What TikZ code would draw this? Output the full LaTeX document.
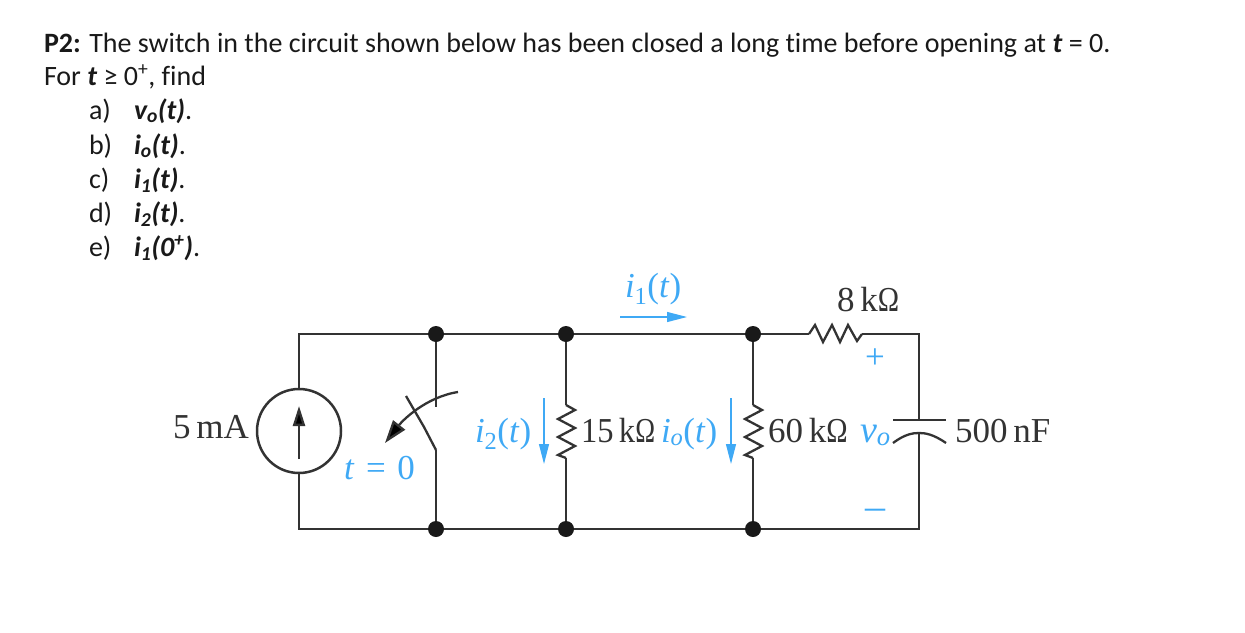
\documentclass[tikz,border=0pt]{standalone}
\usepackage{fontspec}
\usepackage{graphicx}
\setmainfont{Carlito}[Ligatures=NoCommon]
\newfontfamily\ser{Liberation Serif}
\newcommand{\kohm}{k\scalebox{.82}[1]{Ω}}
\usetikzlibrary{arrows.meta}
\definecolor{wire}{HTML}{333333}
\definecolor{blu}{HTML}{3FA9F5}
\tikzset{
  x=1pt,y=-1pt,
  txt/.style={anchor=base west,inner sep=0pt,outer sep=0pt,font=\fontsize{28}{30}\selectfont,text=black!90},
  lab/.style={anchor=base west,inner sep=0pt,outer sep=0pt,font=\ser\fontsize{35}{38}\selectfont,text=wire},
  blab/.style={lab,text=blu},
  wireline/.style={draw=wire,line width=2.3pt},
  dot/.style={circle,fill=black!90,draw=none,minimum size=16pt,inner sep=0pt},
  blarrow/.style={draw=blu,line width=1.2pt,-{Triangle[length=20pt,width=10pt,fill=blu]}},
  swarrow/.style={draw=wire,line width=2.3pt,-{Triangle[length=23pt,width=15pt,fill=black]}},
}
\begin{document}
\begin{tikzpicture}
\useasboundingbox (0,0) rectangle (1245,632);
% problem text
\node[txt] (l1) at (44,52) {\textbf{P2:} The switch in the circuit shown below has been closed a long time before opening at \textbf{\textit{t}} = 0.};
\node[txt] (l2) at (44,85) {For \textbf{\textit{t}} ≥ 0\textsuperscript{+}, find};
\node[txt] (a1) at (89,119) {a)};
\node[txt] (a2) at (134,119) {\textbf{\textit{v\textsubscript{o}(t)}}.};
\node[txt] (b1) at (89,154) {b)};
\node[txt] (b2) at (134,154) {\textbf{\textit{i\textsubscript{o}(t)}}.};
\node[txt] (c1) at (89,188) {c)};
\node[txt] (c2) at (134,188) {\textbf{\textit{i\textsubscript{1}(t)}}.};
\node[txt] (d1) at (89,222) {d)};
\node[txt] (d2) at (134,222) {\textbf{\textit{i\textsubscript{2}(t)}}.};
\node[txt] (e1) at (89,256) {e)};
\node[txt] (e2) at (134,256) {\textbf{\textit{i\textsubscript{1}(0\textsuperscript{+})}}.};
% junctions
\coordinate (cTL) at (299,334);
\coordinate (cBL) at (299,529);
\coordinate (cTR) at (919,334);
\coordinate (cBR) at (919,529);
\node[circle,draw=wire,line width=2.5pt,minimum size=84pt,inner sep=0pt] (src) at (299,431) {};
\coordinate (srcB) at (299,459);
\coordinate (srcT) at (299,406);
\coordinate (swT) at (436,407);
\coordinate (swB) at (436,450);
\coordinate (swK) at (424,427);
\coordinate (swE) at (406,396);
\coordinate (arS) at (458,392);
\coordinate (arE) at (385,443);
\coordinate (r2T) at (566,405);
\coordinate (r2B) at (566,458);
\coordinate (r3T) at (753,405);
\coordinate (r3B) at (753,458);
\coordinate (r1L) at (809,334);
\coordinate (r1R) at (862,334);
\coordinate (capT) at (919,420);
\coordinate (capB) at (919,433);
% wires
\draw[wireline] (src.north) -- (cTL) -- (r1L);
\draw[wireline] (r1R) -- (cTR) -- (capT);
\draw[wireline] (src.south) -- (cBL) -- (cBR) -- (capB);
\draw[wireline] (436,334) -- (swT);
\draw[wireline] (swB) -- (436,529);
\draw[wireline] (566,334) -- (r2T);
\draw[wireline] (r2B) -- (566,529);
\draw[wireline] (753,334) -- (r3T);
\draw[wireline] (r3B) -- (753,529);
\node[dot] (n1) at (436,334) {};
\node[dot] (n2) at (566,334) {};
\node[dot] (n3) at (753,334) {};
\node[dot] (n4) at (436,529) {};
\node[dot] (n5) at (566,529) {};
\node[dot] (n6) at (753,529) {};
% source arrow
\draw[draw=wire,line width=2.3pt,-{Triangle[length=20pt,width=12pt,fill=black]}] (srcB) -- (srcT);
% switch
\draw[wireline] (swB) -- (swK) -- (swE);
\draw[swarrow] (arS) .. controls (426,397) and (403,420) .. (arE);
% resistors
\draw[wireline,line join=miter] (r2T) -- ++(9,5) -- ++(-17,9) -- ++(17,9) -- ++(-17,9) -- ++(17,9) -- ++(-17,9) -- (r2B);
\draw[wireline,line join=miter] (r3T) -- ++(9,5) -- ++(-17,9) -- ++(17,9) -- ++(-17,9) -- ++(17,9) -- ++(-17,9) -- (r3B);
\draw[wireline,line join=miter] (r1L) -- (815,325) -- (823,342) -- (832,325) -- (840,342) -- (848,325) -- (857,341) -- (r1R);
% capacitor
\draw[wireline] (893,420) -- (946,420);
\draw[wireline] (893,443) .. controls (905,434) and (913,433) .. (capB) .. controls (925,433) and (933,434) .. (946,443);
% blue arrows
\coordinate (i1S) at (620,317);
\coordinate (i1E) at (687,317);
\coordinate (i2S) at (544,398);
\coordinate (i2E) at (544,464);
\coordinate (ioS) at (731,398);
\coordinate (ioE) at (731,464);
\draw[blarrow] (i1S) -- (i1E);
\draw[blarrow] (i2S) -- (i2E);
\draw[blarrow] (ioS) -- (ioE);
% labels
\node[lab] (t5) at (173,438) {5\,mA};
\node[lab] (t8) at (837,311) {8\,\kohm};
\node[lab] (t15) at (581,442) {\scalebox{.93}[1]{15\,\kohm}};
\node[lab] (t60) at (768,442) {60\,\kohm};
\node[lab] (t500) at (955,442) {500\,nF};
\node[blab] (ti1) at (625,297) {\textit{i}\textsubscript{1}(\textit{t})};
\node[blab] (ti2) at (475,442) {\textit{i}\textsubscript{2}(\textit{t})};
\node[blab] (tio) at (661,442) {\textit{i\textsubscript{o}}(\textit{t})};
\node[blab,font=\ser\fontsize{38}{40}\selectfont] (tvo) at (860,442) {\textit{v\textsubscript{o}}};
\node[blab] (tt0) at (344,479) {\textit{t}\,\,=\,\,0};
\node[blab] (tp) at (865,368) {+};
\node[blab,font=\ser\fontsize{40}{40}\selectfont] (tm) at (865,519) {–};
\end{tikzpicture}
\end{document}
